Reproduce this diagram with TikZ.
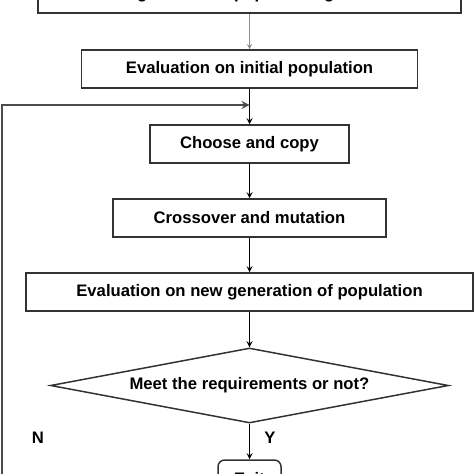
\documentclass[tikz,border=0pt]{standalone}
\usepackage{fontspec}
\setmainfont{Liberation Sans}
\usepackage{tikz}
\usetikzlibrary{shapes.geometric,arrows}
\tikzset{box/.style={rectangle,draw=black!80,line width=0.9pt,minimum height=22.8pt,inner sep=0pt,font=\bfseries},
         dia/.style={diamond,draw=black!80,line width=0.9pt,aspect=5.3,minimum width=238.8pt,minimum height=45pt,inner sep=0pt,font=\bfseries},
         ext/.style={rectangle,rounded corners=4pt,draw=black!80,line width=0.9pt,minimum height=22.8pt,minimum width=37.8pt,font=\bfseries},
         lab/.style={font=\bfseries}}

\begin{document}
\begin{tikzpicture}[>=stealth,x=0.6pt,y=-0.6pt]
        \useasboundingbox (0,0) rectangle (474,474);
        \clip (0,0) rectangle (474,474);
        \node[box,minimum width=253.8pt] (a)at (249.5,-6) {Coding and initial population generation};
        \node[box,minimum width=201.6pt] (b)at (249.5,69) {Evaluation on initial population};
        \node[box,minimum width=119.4pt] (c)at (249.5,144) {Choose and copy};
        \node[box,minimum width=163.8pt] (d)at (249.5,218) {Crossover and mutation};
        \node[box,minimum width=268.2pt] (e)at (249.5,292) {Evaluation on new generation of population};
        \node[dia] (f)at (249.5,385.5) {Meet the requirements or not?};
        \node[ext] (g)at (249.5,479) {Exit};
        \node[lab] (n)at (38,438) {N};
        \node[lab] (y)at (270,438) {Y};
        \coordinate (k) at (2,520);
        \coordinate (j) at (249.5,105);

        \draw [->,black!45,line width=0.4pt] (a) to (b);
        \draw [->,line width=0.6pt] (b) to (c);
        \draw [->,line width=0.6pt] (c) to (d);
        \draw [->,line width=0.6pt] (d) to (e);
        \draw [->,line width=0.6pt] (e) to (f);
        \draw [->,line width=0.6pt] (f) to (g);
        \draw [->,black!70,line width=1.1pt] (k) |- (j);
    \end{tikzpicture}
\end{document}
